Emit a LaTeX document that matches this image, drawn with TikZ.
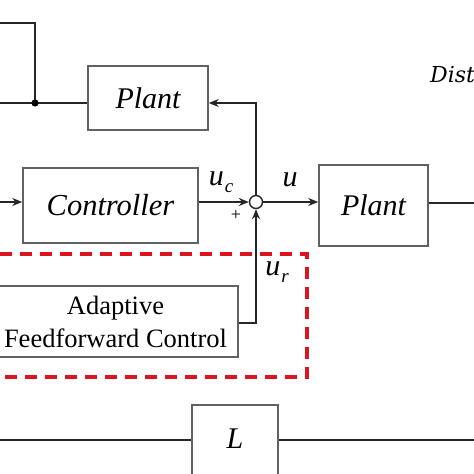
\documentclass[tikz,border=0pt]{standalone}
\usepackage{fontspec}
\setmainfont{Liberation Serif}
\newfontfamily\distfont{DejaVu Serif}
\usetikzlibrary{arrows.meta}
\definecolor{boxgray}{gray}{0.38}
\definecolor{dashred}{RGB}{220,20,30}
\tikzset{
  blockbox/.style={draw=boxgray, line width=1.5pt, fill=white, inner sep=0pt},
  conn/.style={draw=black!85, line width=1.9pt},
  arr/.style={conn, -{Stealth[length=10pt,width=8pt]}},
  lbl/.style={inner sep=0pt, font=\fontsize{30}{32}\selectfont\itshape},
}
\begin{document}
\begin{tikzpicture}[x=1pt,y=-1pt]
\useasboundingbox (0,0) rectangle (474,474);
\clip (0,0) rectangle (474,474);
% red dashed region
\draw[dashred, line width=3.2pt, dash pattern=on 12pt off 8pt] (-20,254) -- (307,254) -- (307,377) -- (-20,377);
% blocks
\node[blockbox, minimum width=120pt, minimum height=64pt, font=\fontsize{30}{32}\selectfont\itshape] (plantA) at (148,98) {Plant};
\node[blockbox, minimum width=175pt, minimum height=75pt, font=\fontsize{30.5}{32}\selectfont\itshape] (ctrl) at (110.5,205.5) {Controller};
\node[blockbox, minimum width=109pt, minimum height=81pt, font=\fontsize{30}{32}\selectfont\itshape] (plantB) at (373.5,205.5) {Plant};
\node[blockbox, minimum width=245pt, minimum height=71pt, align=center, font=\fontsize{26.5}{33}\selectfont] (aff) at (115.5,321.5) {Adaptive\\Feedforward Control};
\node[blockbox, minimum width=86pt, minimum height=75pt, font=\fontsize{30}{32}\selectfont\itshape] (Lbox) at (235,442.5) {\raisebox{7pt}{L}};
% summing junction
\node[circle, draw=black!85, line width=1.4pt, minimum size=13pt, inner sep=0pt, fill=white] (sum) at (256,202) {};
% coordinates
\coordinate (tl) at (-5,23);
\coordinate (tc) at (35,23);
\coordinate (jd) at (35,103);
\coordinate (lA) at (-5,103);
\coordinate (cin) at (-5,202);
\coordinate (up) at (256,103);
\coordinate (down) at (256,323);
\coordinate (outB) at (480,203);
\coordinate (Lin) at (-5,440);
\coordinate (Lout) at (480,440);
% connectors
\draw[conn] (tl) -- (tc) -- (jd);
\draw[conn] (lA) -- (plantA.west |- jd);
\fill[black] (jd) circle (3.6pt);
\draw[arr] (cin) -- (ctrl.west |- cin);
\draw[arr] (ctrl.east |- sum) -- (sum.west);
\draw[arr] (sum.east) -- (plantB.west |- sum);
\draw[arr] (sum.north) -- (up) -- (plantA.east |- up);
\draw[arr] (aff.east |- down) -- (down) -- (sum.south);
\draw[conn] (plantB.east |- outB) -- (outB);
\draw[conn] (Lin) -- (Lbox.west |- Lin);
\draw[conn] (Lbox.east |- Lout) -- (Lout);
% labels
\node[lbl] (uc) at (221,182) {u\kern1pt\raisebox{-7pt}{\fontsize{19}{20}\selectfont c}};
\node[lbl] (u) at (290,180) {u};
\node[inner sep=0pt, font=\fontsize{18}{18}\selectfont] (plus) at (236,215) {+};
\node[lbl] (ur) at (277,272) {u\kern1pt\raisebox{-7pt}{\fontsize{19}{20}\selectfont r}};
\node[anchor=west, inner sep=0pt, font=\distfont\fontsize{22}{24}\selectfont\itshape] (dist) at (430,75) {Dist};
\end{tikzpicture}
\end{document}
